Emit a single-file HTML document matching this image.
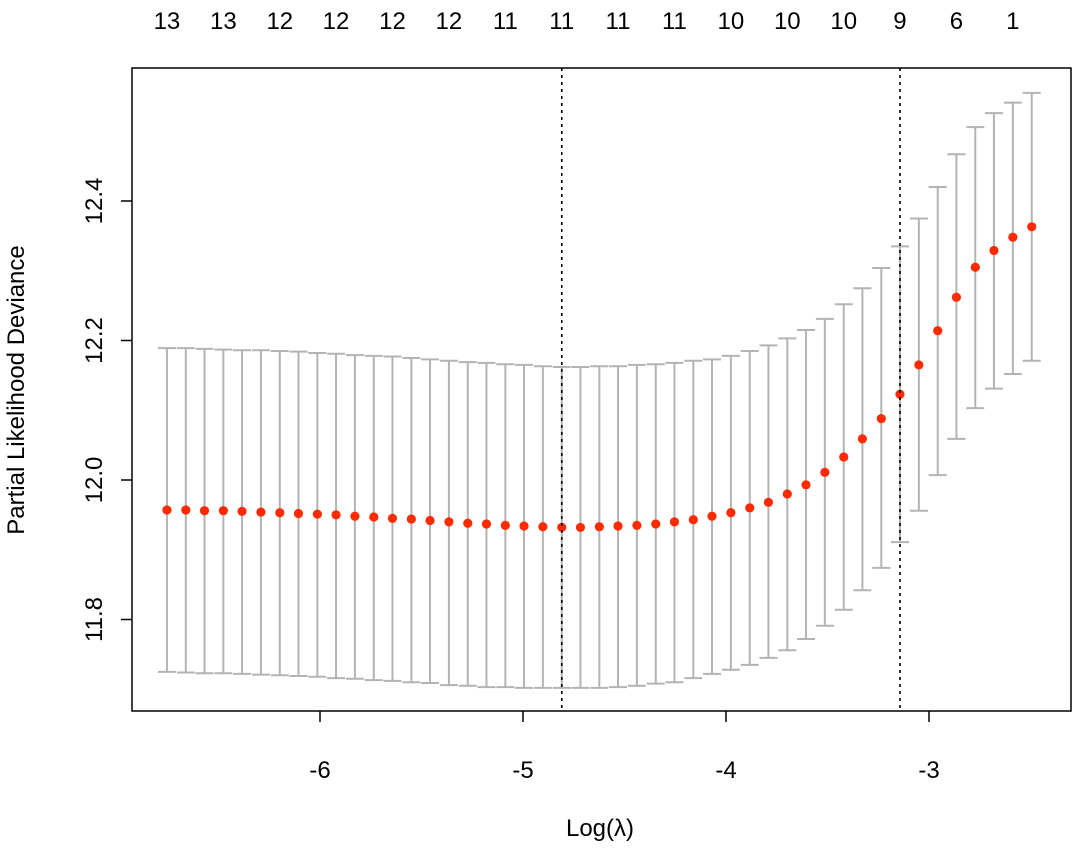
<!DOCTYPE html>
<html><head><meta charset="utf-8"><style>
body{margin:0;background:#fff;}
svg text{font-family:"Liberation Sans",sans-serif;fill:#000;}
</style></head><body>
<svg id="chart" width="1080" height="845" xmlns="http://www.w3.org/2000/svg">
<rect x="132" y="68" width="939" height="643" fill="none" stroke="#000" stroke-width="1.5"/>
<g id="bars"></g><g id="pts"></g><g id="axes"></g>
<text x="600" y="836" font-size="24" text-anchor="middle">Log(λ)</text>
<text transform="translate(24,390) rotate(-90)" font-size="24" text-anchor="middle">Partial Likelihood Deviance</text>
</svg>
<script>
const logLambda=[-6.754,-6.661,-6.569,-6.476,-6.384,-6.291,-6.198,-6.106,-6.013,-5.921,-5.828,-5.735,-5.643,-5.550,-5.458,-5.365,-5.272,-5.180,-5.087,-4.995,-4.902,-4.809,-4.717,-4.624,-4.532,-4.439,-4.346,-4.254,-4.161,-4.069,-3.976,-3.883,-3.791,-3.698,-3.606,-3.513,-3.420,-3.328,-3.235,-3.143,-3.050,-2.957,-2.865,-2.772,-2.680,-2.587,-2.494];
const cvm=[11.957,11.957,11.956,11.956,11.955,11.954,11.953,11.952,11.951,11.950,11.948,11.947,11.945,11.944,11.942,11.940,11.938,11.937,11.935,11.934,11.933,11.932,11.932,11.933,11.934,11.935,11.937,11.940,11.943,11.948,11.953,11.960,11.968,11.980,11.993,12.011,12.033,12.059,12.088,12.123,12.165,12.214,12.262,12.305,12.329,12.348,12.363];
const cvup=[12.189,12.189,12.188,12.187,12.186,12.186,12.185,12.184,12.182,12.181,12.179,12.178,12.177,12.175,12.173,12.171,12.169,12.168,12.166,12.165,12.163,12.162,12.162,12.163,12.163,12.165,12.166,12.168,12.171,12.173,12.178,12.185,12.193,12.203,12.215,12.231,12.252,12.275,12.304,12.335,12.375,12.420,12.467,12.506,12.526,12.541,12.555];
const cvlo=[11.725,11.724,11.723,11.723,11.722,11.721,11.720,11.719,11.718,11.716,11.715,11.713,11.712,11.710,11.709,11.706,11.705,11.703,11.703,11.702,11.702,11.702,11.702,11.702,11.703,11.705,11.708,11.710,11.716,11.722,11.728,11.735,11.745,11.756,11.772,11.791,11.814,11.842,11.874,11.911,11.956,12.007,12.059,12.103,12.131,12.152,12.171];
const nzero=[13,13,12,12,12,12,11,11,11,11,10,10,10,9,6,1];
const xTicks=[-6,-5,-4,-3];
const yTicks=[11.8,12.0,12.2,12.4];
const vLines=[-4.809,-3.143];
const NS="http://www.w3.org/2000/svg";
const X=v=>320+(v+6)*203, Y=v=>480-(v-12)*697.5;
function mk(t,a,p){const e=document.createElementNS(NS,t);for(const k in a)e.setAttribute(k,a[k]);document.getElementById(p).appendChild(e);return e;}
const g='#b3b3b3';
logLambda.forEach((l,i)=>{
  const x=X(l);
  let e=mk('line',{x1:x,x2:x,y1:Y(cvup[i]),y2:Y(cvlo[i]),stroke:g,'stroke-width':2},'bars');
  
  
  [cvup[i],cvlo[i]].forEach(v=>{const c=mk('line',{x1:x-9,x2:x+9,y1:Y(v),y2:Y(v),stroke:g,'stroke-width':2},'bars');
    
    });
  const p=mk('circle',{cx:x,cy:Y(cvm[i]),r:4.6,fill:'#ff2a00'},'pts');
  
  
});
vLines.forEach(v=>{const e=mk('line',{x1:X(v),x2:X(v),y1:68,y2:711,stroke:'#000','stroke-width':1.6,'stroke-dasharray':'3,4'},'axes');
  
  });
xTicks.forEach(v=>{const x=X(v);
  const t=mk('line',{x1:x,x2:x,y1:711,y2:722,stroke:'#000','stroke-width':1.5},'axes');
  
  
  const s=mk('text',{x:x,y:778,'font-size':24,'text-anchor':'middle'},'axes');s.textContent=v;
  
  });
yTicks.forEach(v=>{const y=Y(v);
  const t=mk('line',{x1:121,x2:132,y1:y,y2:y,stroke:'#000','stroke-width':1.5},'axes');
  
  
  const s=mk('text',{transform:`translate(102,${y}) rotate(-90)`,'font-size':24,'text-anchor':'middle'},'axes');s.textContent=v.toFixed(1);
  
  });
nzero.forEach((n,k)=>{const s=mk('text',{x:X(logLambda[k*3]),y:29,'font-size':24,'text-anchor':'middle'},'axes');s.textContent=n;
  
  });
</script>
</body></html>
